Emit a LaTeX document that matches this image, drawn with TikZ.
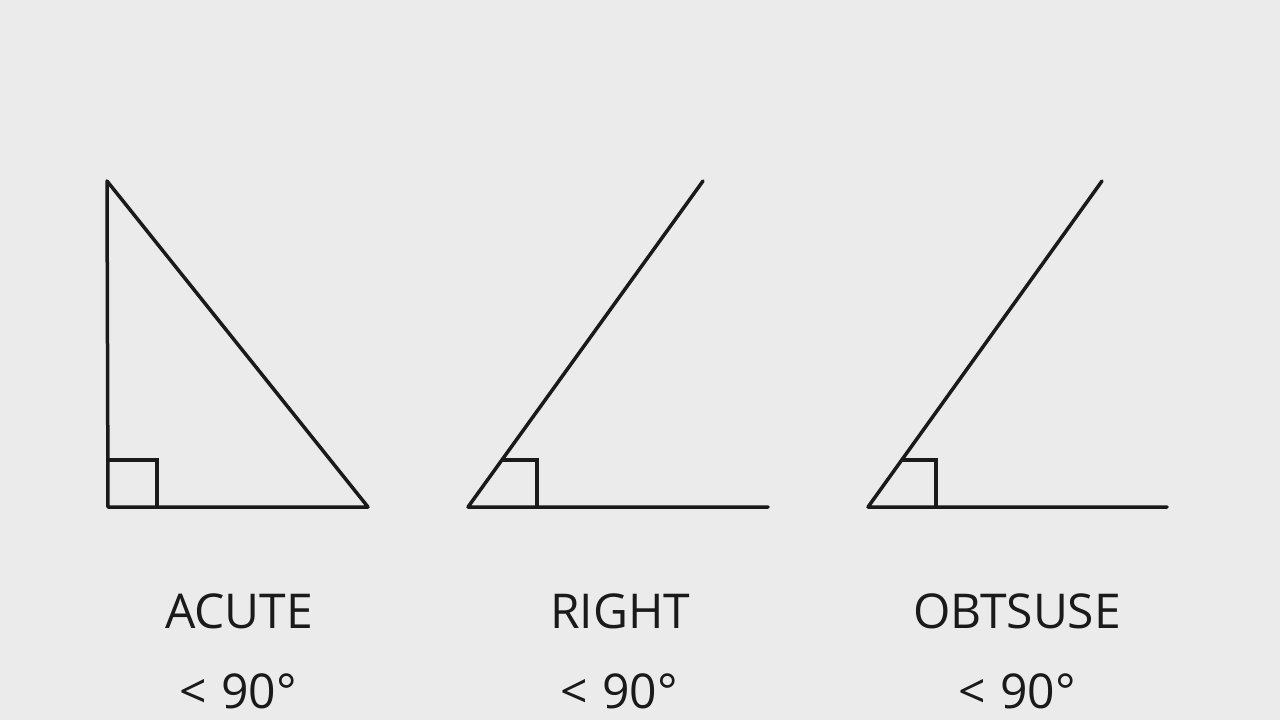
\documentclass[tikz,border=0pt]{standalone}
\usepackage{fontspec}
\setmainfont{Open Sans}
\definecolor{bg}{HTML}{EBEBEB}
\definecolor{ink}{HTML}{1A1A1A}
\begin{document}
\begin{tikzpicture}[x=1pt,y=-1pt,
  edge/.style={draw=ink,line width=3.5pt,line cap=round,line join=round},
  sq/.style={draw=ink,line width=3.5pt,line join=miter},
  lab/.style={text=ink,font=\fontsize{48}{58}\selectfont,anchor=base,inner sep=0pt}]
\fill[bg] (0,0) rectangle (1280,720);
\useasboundingbox (0,0) rectangle (1280,720);
% acute
\coordinate (a1) at (107,181);
\coordinate (a2) at (108,507);
\coordinate (a3) at (368,507);
\draw[edge] (a1) -- (a2) -- (a3) -- cycle;
\draw[sq] (108,460) -- (157,460) -- (157,507);
% right
\coordinate (r0) at (468,507);
\coordinate (r1) at (703,181);
\coordinate (r2) at (768,507);
\draw[edge] (r1) -- (r0) -- (r2);
\draw[sq] (501,460) -- (537,460) -- (537,507);
% obtuse
\coordinate (o0) at (868,507);
\coordinate (o1) at (1102,181);
\coordinate (o2) at (1167,507);
\draw[edge] (o1) -- (o0) -- (o2);
\draw[sq] (901,460) -- (936,460) -- (936,507);
% labels
\node[lab] (t1) at (239,628) {ACUTE};
\node[lab] (t2) at (620,628) {RIGHT};
\node[lab] (t3) at (1017,628) {OBTSUSE};
\node[lab] (s1) at (238,708) {<\hspace{0.3em}90°};
\node[lab] (s2) at (619,708) {<\hspace{0.3em}90°};
\node[lab] (s3) at (1017,708) {<\hspace{0.3em}90°};
\end{tikzpicture}
\end{document}
